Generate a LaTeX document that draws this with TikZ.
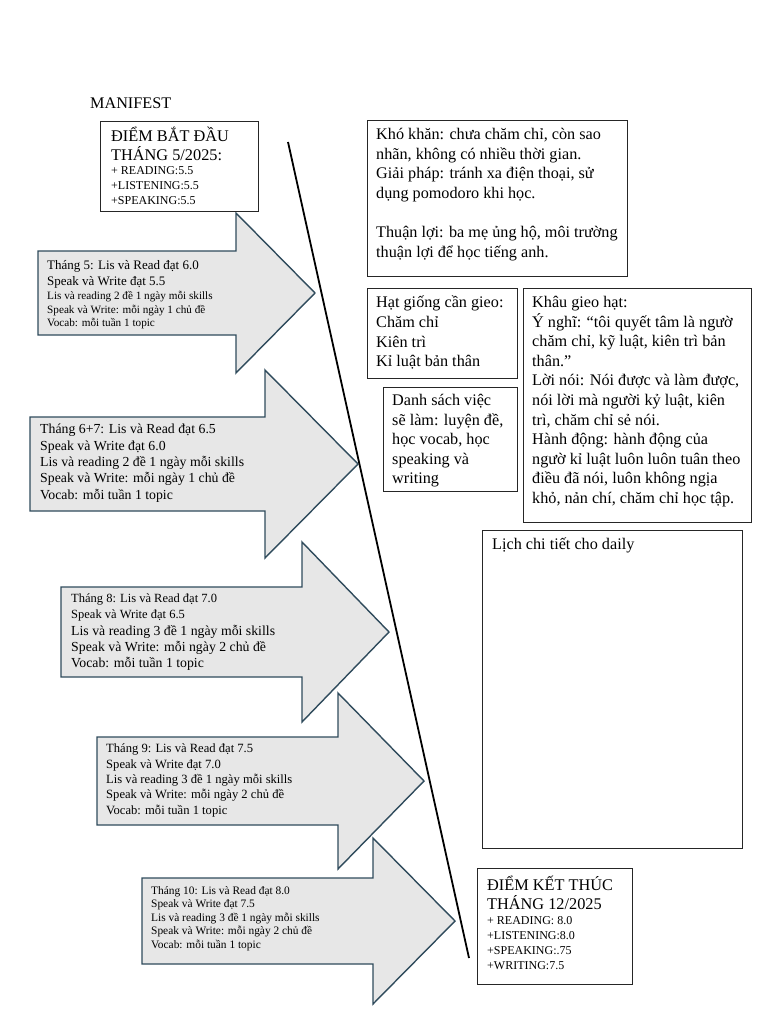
\documentclass[tikz,border=0pt]{standalone}
\usepackage{fontspec}
\setmainfont{Liberation Serif}
\usepackage{xcolor}
\usetikzlibrary{positioning, calc}
\definecolor{arrowedge}{HTML}{2F4B5C}
\definecolor{arrowfill}{HTML}{E7E7E7}

\begin{document}
\begin{tikzpicture}[
    x=1pt, y=-1pt,
    box/.style={draw=black!85, line width=1.2pt, anchor=north west, inner sep=0pt},
    txt/.style={anchor=north west, inner sep=0pt, align=left},
    big/.style={font=\fontsize{16.2}{19.6}\selectfont},
    head/.style={font=\fontsize{16.3}{19}\selectfont},
    small/.style={font=\fontsize{12}{15.2}\selectfont},
    bigarrow/.style={draw=arrowedge, fill=arrowfill, line width=1.4pt, line join=miter}
]
\useasboundingbox (0,0) rectangle (768,1024);

% ---- month arrows ----
\foreach \xl/\yc/\bh/\xh/\hh/\xt in {38/293/42/236/80/315, 30/464/47/265/94/358,
    61/632/45/302/90/389, 97/781/44/338/88/424, 142/921/43/373/83/455} {
    \draw[bigarrow] (\xl,\yc-\bh) -- (\xh,\yc-\bh) -- (\xh,\yc-\hh) -- (\xt,\yc)
        -- (\xh,\yc+\hh) -- (\xh,\yc+\bh) -- (\xl,\yc+\bh) -- cycle;
}

% ---- time line ----
\coordinate (ltop) at (288,142);
\coordinate (lbot) at (469,958);
\draw[line width=1.8pt] (ltop) -- (lbot);

% ---- title and start ----
\node[anchor=base west, inner sep=0pt, font=\fontsize{16.2}{19}\selectfont] (title) at (90,109) {MANIFEST};
\node[box, fill=white, minimum width=158, minimum height=90] (start) at (100,121) {};
\node[txt, head] (starthd) at (111,127) {ĐIỂM BẮT ĐẦU\\THÁNG 5/2025:};
\node[txt, small] (startsc) at (111,166) {+ READING:5.5\\+LISTENING:5.5\\+SPEAKING:5.5};

% ---- arrow texts ----
\node[txt, font=\fontsize{13}{16}\selectfont] (m5a) at (47,260) {Tháng 5: Lis và Read đạt 6.0\\Speak và Write đạt 5.5};
\node[txt, font=\fontsize{11.2}{13.5}\selectfont] (m5b) at (47,291) {Lis và reading 2 đề 1 ngày mỗi skills\\Speak và Write: mỗi ngày 1 chủ đề\\Vocab: mỗi tuần 1 topic};

\node[txt, font=\fontsize{13.8}{16.4}\selectfont] (m67) at (40,424) {Tháng 6+7: Lis và Read đạt 6.5\\Speak và Write đạt 6.0\\Lis và reading 2 đề 1 ngày mỗi skills\\Speak và Write: mỗi ngày 1 chủ đề\\Vocab: mỗi tuần 1 topic};

\node[txt, font=\fontsize{12.5}{15.5}\selectfont] (m8a) at (71,594) {Tháng 8: Lis và Read đạt 7.0\\Speak và Write đạt 6.5};
\node[txt, font=\fontsize{13.8}{16}\selectfont] (m8b) at (71,625) {Lis và reading 3 đề 1 ngày mỗi skills\\Speak và Write: mỗi ngày 2 chủ đề\\Vocab: mỗi tuần 1 topic};

\node[txt, font=\fontsize{12.6}{15.3}\selectfont] (m9) at (106,744) {Tháng 9: Lis và Read đạt 7.5\\Speak và Write đạt 7.0\\Lis và reading 3 đề 1 ngày mỗi skills\\Speak và Write: mỗi ngày 2 chủ đề\\Vocab: mỗi tuần 1 topic};

\node[txt, font=\fontsize{11.4}{13.5}\selectfont] (m10) at (151,886) {Tháng 10: Lis và Read đạt 8.0\\Speak và Write đạt 7.5\\Lis và reading 3 đề 1 ngày mỗi skills\\Speak và Write: mỗi ngày 2 chủ đề\\Vocab: mỗi tuần 1 topic};

% ---- right boxes ----
\node[box, minimum width=260, minimum height=156] (kho) at (367,120) {};
\node[txt, big] (khotxt) at (376,128) {Khó khăn: chưa chăm chỉ, còn sao\\nhãn, không có nhiều thời gian.\\Giải pháp: tránh xa điện thoại, sử\\dụng pomodoro khi học.\\[19.6pt]Thuận lợi: ba mẹ ủng hộ, môi trường\\thuận lợi để học tiếng anh.};

\node[box, minimum width=150, minimum height=90] (seed) at (367,288) {};
\node[txt, big] (seedtxt) at (376,296) {Hạt giống cần gieo:\\Chăm chỉ\\Kiên trì\\Kỉ luật bản thân};

\node[box, minimum width=134, minimum height=104] (todo) at (383,387) {};
\node[txt, big] (todotxt) at (392,394) {Danh sách việc\\sẽ làm: luyện đề,\\học vocab, học\\speaking và\\writing};

\node[box, minimum width=228, minimum height=234] (sow) at (523,288) {};
\node[txt, big] (sowtxt) at (532,296) {Khâu gieo hạt:\\Ý nghĩ: “tôi quyết tâm là ngườ\\chăm chỉ, kỹ luật, kiên trì bản\\thân.”\\Lời nói: Nói được và làm được,\\nói lời mà người kỷ luật, kiên\\trì, chăm chỉ sẻ nói.\\Hành động: hành động của\\ngườ kỉ luật luôn luôn tuân theo\\điều đã nói, luôn không ngịa\\khỏ, nản chí, chăm chỉ học tập.};

\node[box, minimum width=260, minimum height=318] (daily) at (482,530) {};
\node[txt, big] (dailytxt) at (492,538) {Lịch chi tiết cho daily};

% ---- end ----
\node[box, minimum width=155, minimum height=116] (finish) at (477,868) {};
\node[txt, head] (finishhd) at (487,876) {ĐIỂM KẾT THÚC\\THÁNG 12/2025};
\node[txt, small] (finishsc) at (487,916) {+ READING: 8.0\\+LISTENING:8.0\\+SPEAKING:.75\\+WRITING:7.5};

\end{tikzpicture}
\end{document}
